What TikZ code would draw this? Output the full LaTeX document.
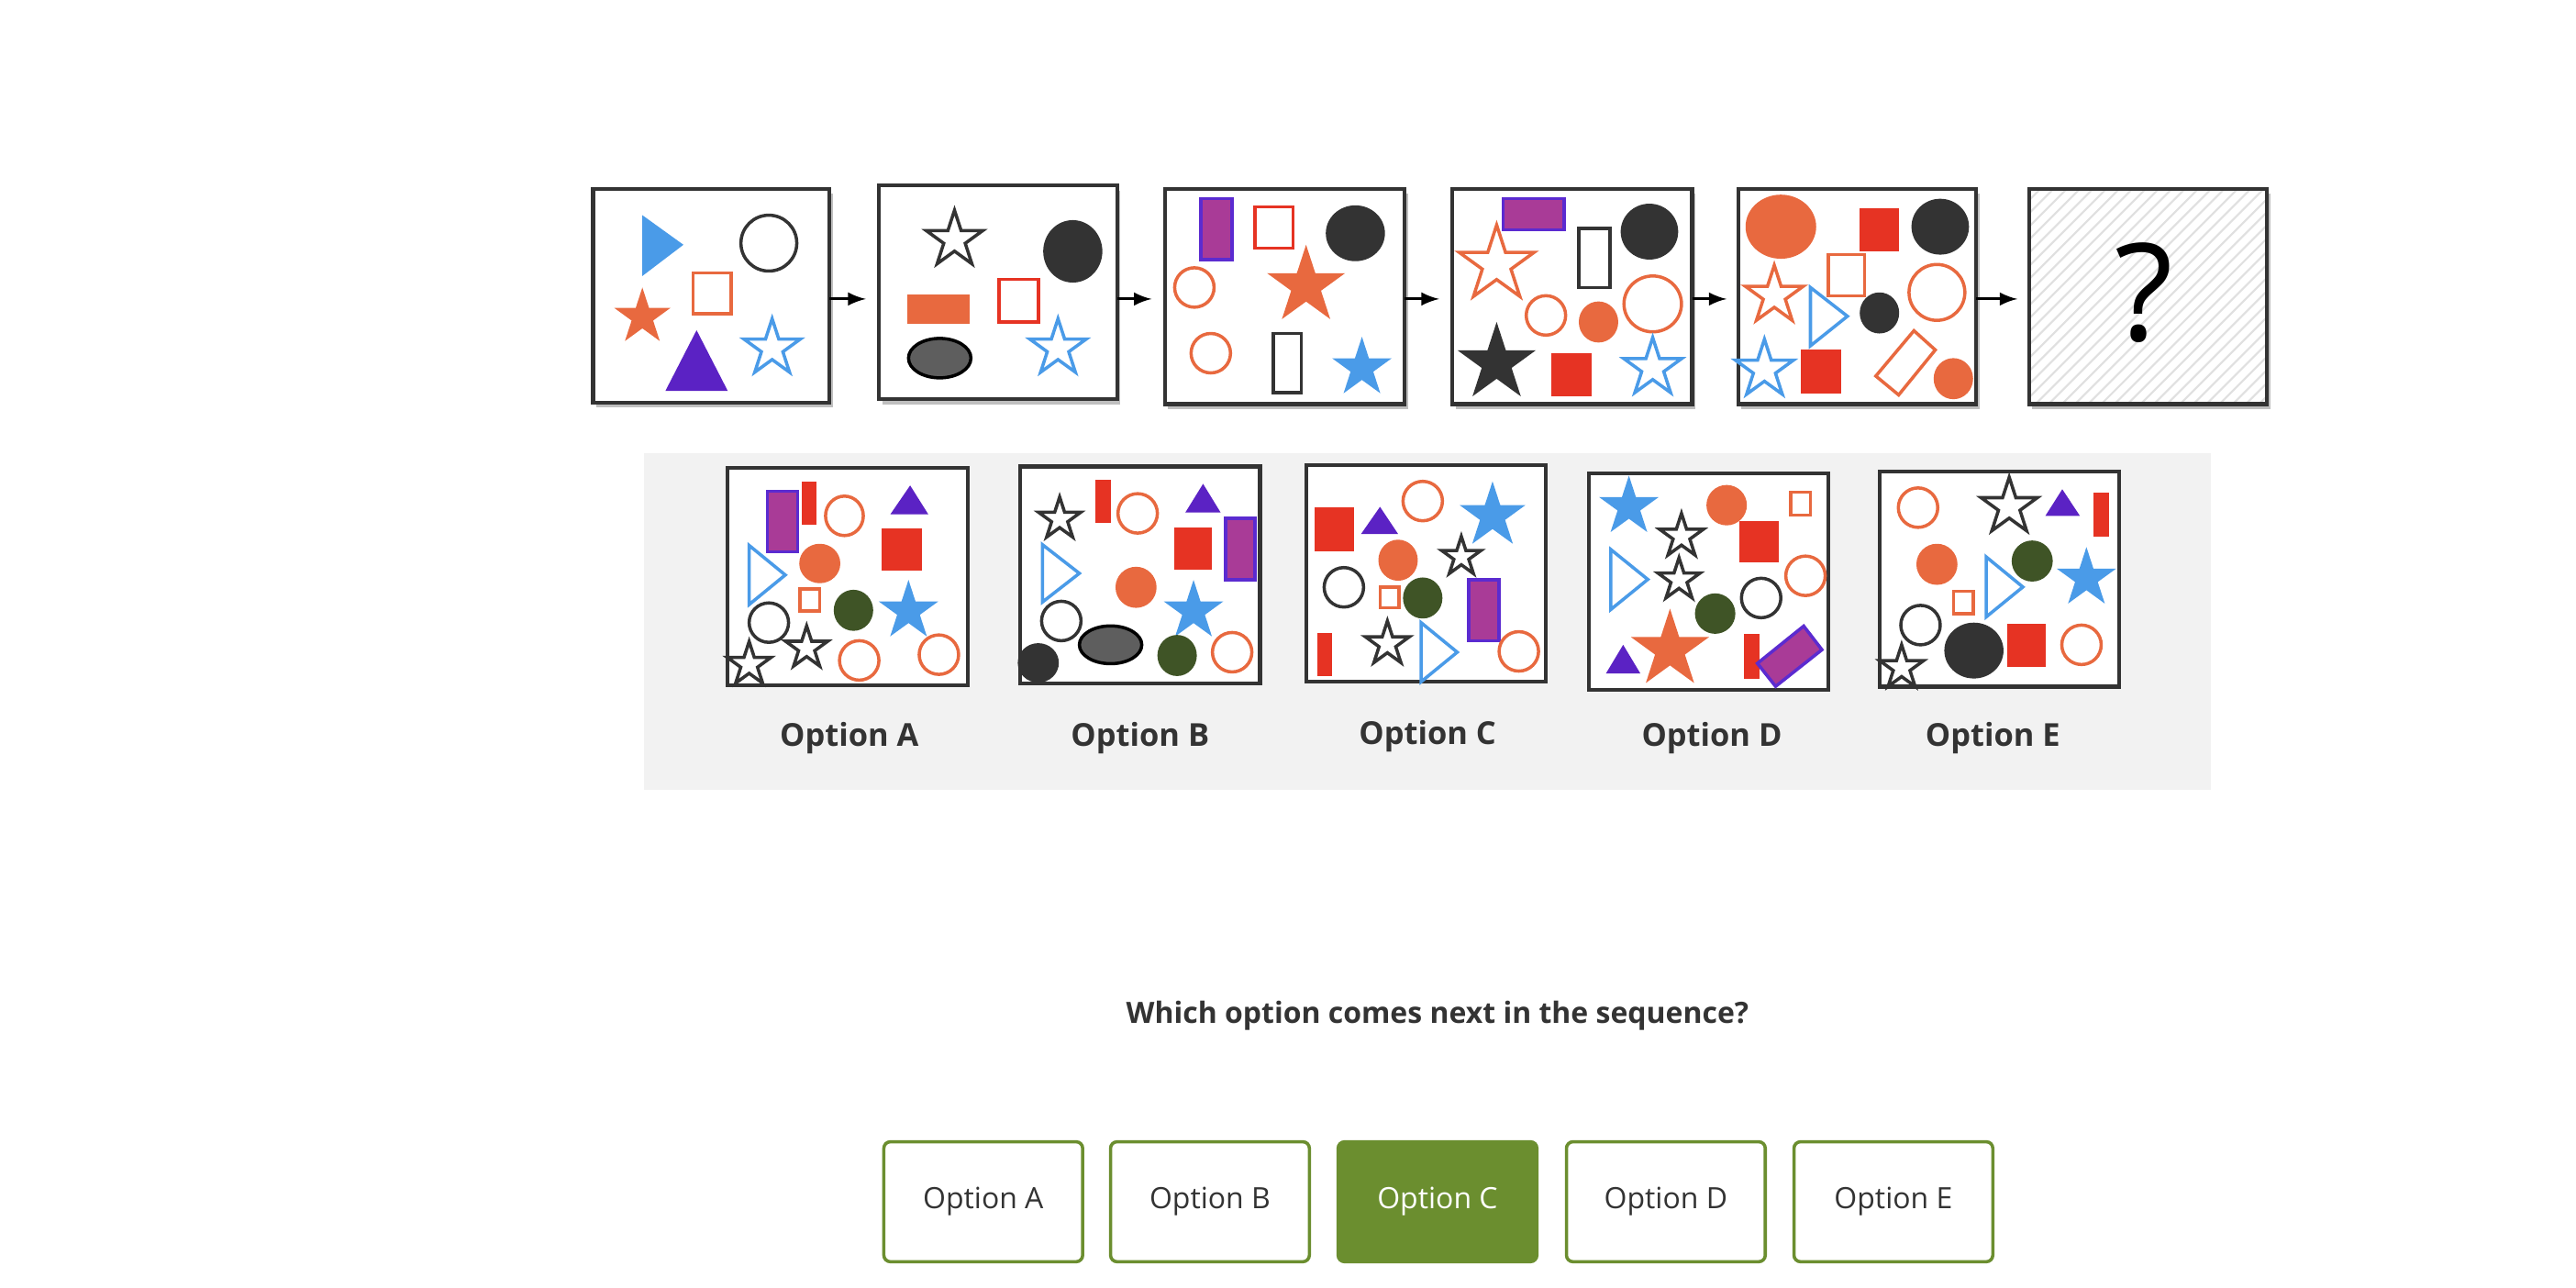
\documentclass[tikz,border=0pt]{standalone}
\usepackage{fontspec}
\setmainfont{Open Sans}
\definecolor{OR}{HTML}{E8693F}
\definecolor{RD}{HTML}{E63323}
\definecolor{BL}{HTML}{4A9BE8}
\definecolor{PT}{HTML}{5B22C4}
\definecolor{PF}{HTML}{A93B97}
\definecolor{PB}{HTML}{5B2BD0}
\definecolor{DK}{HTML}{333333}
\definecolor{GR}{HTML}{5E5E5E}
\definecolor{DG}{HTML}{3F5426}
\definecolor{BT}{HTML}{6B8E2F}
\newcommand\shstar[4]{\path[#1,shift={(#2,#3)}] (-90:#4) \foreach \k in {1,...,9}{ -- ({-90+36*\k}:{ifthenelse(mod(\k,2)==1,0.382*#4,#4)})} -- cycle;}
\newcommand\shell[5]{\path[#1] (#2,#3) ellipse [x radius=#4, y radius=#5];}
\newcommand\shrect[5]{\path[#1] (#2,#3) rectangle (#4,#5);}
\tikzset{
 oo/.style={draw=OR,line width=1pt}, of/.style={fill=OR},
 ro/.style={draw=RD,line width=1pt}, rf/.style={fill=RD},
 bo/.style={draw=BL,line width=1pt}, bf/.style={fill=BL},
 ko/.style={draw=DK,line width=1pt}, kf/.style={fill=DK},
 gf/.style={fill=DG}, tf/.style={fill=PT},
 pr/.style={fill=PF,draw=PB,line width=1pt},
 frame/.style={draw=DK,line width=1.2pt,fill=white},
 shadow/.style={fill=black!25},
 arr/.style={-latex,line width=0.9pt},
 btn/.style={draw=BT,line width=1pt,rounded corners=2pt,minimum width=121*0.01791cm,minimum height=73*0.01791cm,font=\fontsize{9.1}{11}\selectfont,text=DK},
 olab/.style={font=\bfseries\fontsize{9.8}{12}\selectfont,text=DK}
}
\begin{document}
\begin{tikzpicture}[x=0.01791cm,y=-0.01791cm]
\useasboundingbox[fill=white] (0,0) rectangle (1568,784);
% sequence panels
\foreach \a/\b/\c/\d in {361/115/505/245,535/113/680/243,709/115/855/246,884/115/1030/246,1058/115/1203/246}{
 \fill[shadow] (\a+2,\b+3) rectangle (\c+2,\d+3);
 \path[frame] (\a,\b) rectangle (\c,\d);}
\fill[shadow] (1237,118) rectangle (1382,249);
\path[frame] (1235,115) rectangle (1380,246);
\begin{scope}
\clip (1235,115) rectangle (1380,246);
\foreach \i in {0,...,36}{\draw[black!12,line width=0.6pt] (1235-140+\i*8,246) -- ++(140,-140);}
\end{scope}
\draw[DK,line width=1.2pt] (1235,115) rectangle (1380,246);
\node[text=black] (q) at (1305,178) {\fontsize{42}{42}\selectfont ?};
% arrows
\coordinate (a1) at (505,182); \coordinate (b1) at (527,182);
\coordinate (a2) at (680,182); \coordinate (b2) at (701,182);
\coordinate (a3) at (855,182); \coordinate (b3) at (876,182);
\coordinate (a4) at (1030,182); \coordinate (b4) at (1051,182);
\coordinate (a5) at (1203,182); \coordinate (b5) at (1228,182);
\foreach \i in {1,...,5}{\draw[arr] (a\i) -- (b\i);}
% P1
\path[bf] (391,131) -- (416,149) -- (391,168) -- cycle;
\shell{ko}{468}{148}{17}{17}
\shrect{oo}{422}{166}{445}{191}
\shstar{of}{391}{193}{18}
\path[tf] (405,238) -- (424,201) -- (443,238) -- cycle;
\shstar{bo}{470}{212}{18}
% P2
\shstar{ko}{581}{146}{18}
\shell{kf}{653}{153}{18}{19}
\shrect{of}{552}{179}{590}{197}
\shrect{ro}{608}{170}{632}{196}
\shell{fill=GR,draw=black,line width=1pt}{572}{218}{19}{12}
\shstar{bo}{644}{212}{18}
% P3
\shrect{pr}{731}{121}{750}{158}
\shrect{ro}{764}{126}{787}{151}
\shell{kf}{825}{142}{18}{17}
\shell{oo}{727}{175}{12}{12}
\shstar{of}{795}{174}{25}
\shell{oo}{737}{215}{12}{12}
\shrect{ko}{775}{203}{792}{239}
\shstar{bf}{829}{224}{19}
% P4
\shrect{pr}{915}{121}{952}{140}
\shstar{oo}{911}{161}{24}
\shrect{ko}{961}{139}{980}{175}
\shell{kf}{1004}{141}{17.5}{17}
\shell{oo}{941}{192}{12}{12}
\shell{of}{973}{196}{12}{12.5}
\shell{oo}{1006}{185}{17.5}{17}
\shstar{kf}{911}{221}{25}
\shrect{rf}{944}{215}{969}{241}
\shstar{bo}{1006}{224}{18.5}
% P5
\shell{of}{1084}{138}{21.5}{19.5}
\shrect{rf}{1132}{127}{1156}{153}
\shell{kf}{1181}{138}{17.5}{17}
\shrect{oo}{1113}{155}{1135}{180}
\shstar{oo}{1080}{180}{18.5}
\path[bo] (1102,175) -- (1124.5,192.5) -- (1102,210.5) -- cycle;
\shell{kf}{1144}{190.5}{12}{12.5}
\shell{oo}{1179}{178}{17}{17}
\shstar{bo}{1074}{225}{18.5}
\shrect{rf}{1096}{213}{1120.5}{239.5}
\path[oo] (1165,201.3) -- (1178,213) -- (1155.7,240.4) -- (1141.8,228.9) -- cycle;
\shell{of}{1189}{230.5}{12}{12.5}
% options panel
\fill[black!5] (392,276) rectangle (1346,481);
\foreach \a/\b/\c/\d in {443/285/589/417,621/284/767/416,795/283/941/415,967/288/1113/420,1144/287/1290/418}{
 \path[frame,line width=1.2pt] (\a,\b) rectangle (\c,\d);}
% A
\shrect{pr}{467}{299}{485.5}{336}
\shrect{rf}{488}{293}{497}{319.5}
\shell{oo}{514}{314}{11.5}{12}
\path[tf] (542,313) -- (554,295.5) -- (565,313) -- cycle;
\shrect{rf}{536.5}{321.5}{561}{347.5}
\path[bo] (456,332) -- (478,350) -- (456,368) -- cycle;
\shell{of}{499}{343}{12.5}{12}
\shrect{oo}{487}{358.5}{499}{372}
\shell{gf}{519.5}{371.5}{12}{12.5}
\shstar{bf}{553}{372}{19}
\shell{ko}{468}{379}{12}{12}
\shstar{ko}{491}{394.5}{13.5}
\shstar{ko}{456}{404.5}{14}
\shell{oo}{523}{402}{12}{12}
\shell{oo}{571.5}{398.5}{12}{12}
% B
\shstar{ko}{645}{316}{13.5}
\shrect{rf}{667}{292}{676}{318.5}
\shell{oo}{692.5}{312.5}{12}{12}
\path[tf] (721.5,312) -- (732.3,294.5) -- (743,312) -- cycle;
\shrect{rf}{715}{321}{737.5}{346.5}
\shrect{pr}{746}{315.5}{764}{353}
\path[bo] (634.5,331.5) -- (657,349) -- (634.5,366.5) -- cycle;
\shell{of}{691.5}{357.5}{12.5}{12.5}
\shstar{bf}{726.5}{372}{19}
\shell{ko}{646}{378}{12}{12}
\shell{fill=GR,draw=black,line width=1pt}{676}{392.5}{19}{11.5}
\shell{kf}{632}{403.5}{12.5}{12}
\shell{gf}{716.5}{399}{12}{12.5}
\shell{oo}{750}{397}{12}{12}
% C
\shrect{rf}{800}{309}{824}{335.5}
\path[tf] (828.5,325) -- (840,308.5) -- (851,325) -- cycle;
\shell{oo}{866}{305}{12}{12}
\shstar{bf}{908.5}{314}{21}
\shell{of}{851}{341}{12}{12.5}
\shstar{ko}{889.5}{339}{12.5}
\shell{ko}{818}{357.5}{12}{12}
\shrect{oo}{840}{357.5}{851.5}{370}
\shell{gf}{866}{364}{12}{12.5}
\shrect{pr}{894}{353}{912.5}{390}
\shrect{rf}{802}{385.5}{811}{411.5}
\shstar{ko}{844.5}{392}{14}
\path[bo] (865,379) -- (887,397) -- (865,415) -- cycle;
\shell{oo}{924.5}{396.5}{12}{12}
% D
\shstar{bf}{991.5}{308.5}{19}
\shell{of}{1051}{307.5}{12.3}{12.3}
\shrect{oo}{1090}{299.5}{1102}{313.5}
\shrect{rf}{1058.5}{317}{1083}{342.5}
\shstar{ko}{1023.5}{326.5}{14}
\shstar{ko}{1022}{353}{13.5}
\path[bo] (980.5,334.5) -- (1003,352.7) -- (980.5,371) -- cycle;
\shell{oo}{1099}{350.5}{12}{12}
\shell{ko}{1072}{364}{12}{12}
\shell{gf}{1044}{373.5}{12.3}{12.3}
\shstar{of}{1016.5}{395.5}{25}
\path[tf] (977.5,410) -- (988,392.5) -- (998.5,410) -- cycle;
\shrect{rf}{1061.5}{386}{1071}{413}
\path[pr] (1069.7,403.8) -- (1097.9,381.1) -- (1109,395.5) -- (1080.8,417.8) -- cycle;
% E
\shell{oo}{1167.5}{309}{12}{12}
\shstar{ko}{1223}{308.5}{18}
\path[tf] (1245,314) -- (1255.3,297.8) -- (1266,314) -- cycle;
\shrect{rf}{1274}{300}{1283.5}{326.5}
\shell{of}{1179}{343.5}{12.5}{12.5}
\shell{gf}{1237}{341.5}{12.5}{12.5}
\shstar{bf}{1270}{352}{19}
\path[bo] (1209,339) -- (1231.3,357.3) -- (1209,375.5) -- cycle;
\shrect{oo}{1189}{360}{1201}{373.5}
\shell{ko}{1169}{380.5}{12}{12}
\shell{kf}{1201.5}{396}{18}{17}
\shrect{rf}{1221.5}{379.5}{1245.5}{406}
\shell{oo}{1267}{392.5}{12}{12}
\shstar{ko}{1157.5}{406.5}{14}
% option labels
\node[olab] (la) at (517,449) {Option A};
\node[olab] (lb) at (694,449) {Option B};
\node[olab] (lc) at (869,448) {Option C};
\node[olab] (ld) at (1042,449) {Option D};
\node[olab] (le) at (1213,449) {Option E};
% question
\node[font=\bfseries\fontsize{9.1}{11}\selectfont,text=DK] (qq) at (875,618) {Which option comes next in the sequence?};
% buttons
\node[btn] (ba) at (598.5,731.5) {Option A};
\node[btn] (bb) at (736.5,731.5) {Option B};
\node[btn,fill=BT,text=white] (bc) at (875,731.5) {Option C};
\node[btn] (bd) at (1014,731.5) {Option D};
\node[btn] (be) at (1152.5,731.5) {Option E};
\end{tikzpicture}
\end{document}
